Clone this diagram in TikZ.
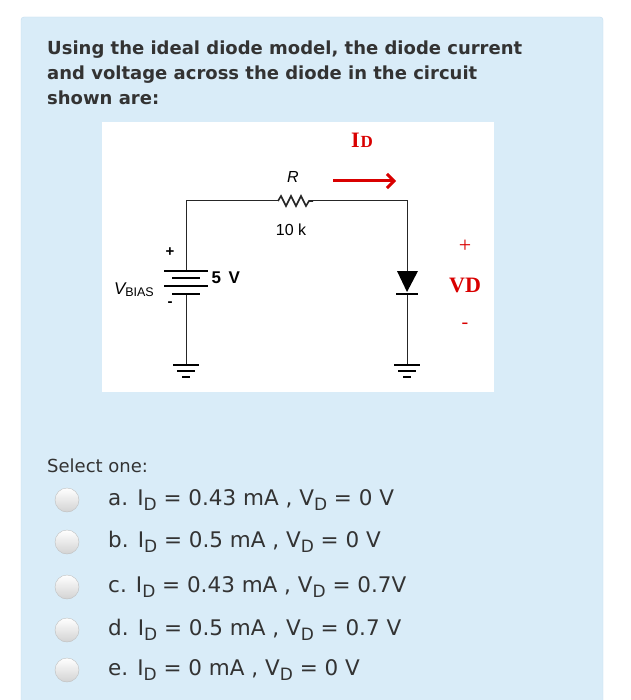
\documentclass[tikz,border=0pt]{standalone}
\usepackage{fontspec}
\usetikzlibrary{calc,arrows.meta}
\setmainfont{DejaVu Sans}
\newfontfamily\serifb{Liberation Serif}
\newfontfamily\arialf{Liberation Sans}
\definecolor{panel}{RGB}{217,236,248}
\definecolor{panelb}{RGB}{196,222,240}
\newcommand{\subD}{\raisebox{-5pt}{\fontsize{17}{17}\selectfont D}}
\begin{document}
\begin{tikzpicture}[x=1pt,y=-1pt,
  wire/.style={line width=1pt,black!85},
  radio/.style={circle,minimum size=24pt,inner sep=0pt,draw=gray!50,top color=white,bottom color=gray!35},
  opt/.style={anchor=west,font=\fontsize{21.5}{24}\selectfont,text=black!80,inner sep=0pt},
  red/.style={text=red!85!black}]
\useasboundingbox (0,0) rectangle (630,700);
\fill[white] (0,0) rectangle (630,700);
\draw[fill=panel, draw=panelb, rounded corners=3pt] (21,17) rectangle (603,712);
\node[anchor=north west,align=left,inner sep=0pt,font=\bfseries\fontsize{18}{25}\selectfont,text=black!80] (title) at (47,41)
 {Using the ideal diode model, the diode current\\and voltage across the diode in the circuit\\shown are:};
\fill[white] (102,122) rectangle (494,392);
% circuit
\coordinate (tl) at (186,201); \coordinate (tr) at (407,201);
\coordinate (r1) at (278,201); \coordinate (r2) at (313,201);
\coordinate (bt) at (186,271); \coordinate (bb) at (186,294);
\coordinate (gl) at (186,365); \coordinate (gr) at (407,365);
\coordinate (dt) at (407,271); \coordinate (db) at (407,294);
\draw[wire] (bt) -- (tl) -- (r1);
\draw[wire,line width=1.6pt] (r1) -- ++(3,-5) -- ++(5,10) -- ++(5,-10) -- ++(5,10) -- ++(5,-10) -- ++(5,10) -- ++(3,-5) -- (r2);
\draw[wire] (r2) -- (tr) -- (dt);
\draw[wire] (db) -- (gr);
\draw[wire] (bb) -- (gl);
\foreach \y/\w in {271/22,278/14,286/22,294/14}
  \draw[line width=2.2pt] (186-\w,\y) -- (186+\w,\y);
\fill (397,271) -- (418,271) -- (407,292) -- cycle;
\draw[line width=2.2pt] (396,294) -- (418,294);
\foreach \c in {gl,gr}{
  \draw[line width=2.2pt] ($(\c)+(-13,0)$) -- ++(26,0);
  \draw[line width=2.2pt] ($(\c)+(-9,6)$) -- ++(18,0);
  \draw[line width=2.2pt] ($(\c)+(-4,12)$) -- ++(8,0);}
\node[font=\arialf\itshape\fontsize{16}{16}\selectfont] (R) at (293,177) {R};
\node[font=\arialf\fontsize{16}{16}\selectfont] (rv) at (291,230) {10 k};
\node[font=\arialf\bfseries\fontsize{15}{15}\selectfont] (pl) at (170,252) {+};
\node[font=\arialf\bfseries\fontsize{15}{15}\selectfont] (mn) at (170,304) {-};
\node[font=\arialf\fontsize{17}{17}\selectfont] (vb) at (134,290) {\textit{V}\kern-1.5pt\raisebox{-2pt}{\fontsize{12.5}{12.5}\selectfont BIAS}};
\node[font=\arialf\bfseries\fontsize{17}{17}\selectfont,anchor=west] (fv) at (208,278) {5\, V};
\node[red,font=\serifb\bfseries\fontsize{22}{22}\selectfont] (ID) at (362,140) {I\kern1pt{\fontsize{17}{17}\selectfont D}};
\coordinate (a1) at (333,181); \coordinate (a2) at (396,181);
\draw[red!85!black,line width=3pt,-{Straight Barb[length=7pt,width=14pt]}] (a1) -- (a2);
\node[red,font=\serifb\fontsize{22}{22}\selectfont] (vp) at (465,246) {+};
\node[red,font=\serifb\bfseries\fontsize{22}{22}\selectfont] (VD) at (465,285) {VD};
\node[red,font=\serifb\fontsize{20}{20}\selectfont] (vm) at (465,326) {-};
\node[anchor=west,inner sep=0pt,font=\fontsize{18}{18}\selectfont,text=black!80] (sel) at (47,466) {Select one:};
\foreach \yy/\t [count=\i] in {
 500/{a. I\subD\ = 0.43 mA , V\subD\ = 0 V},
 542/{b. I\subD\ = 0.5 mA , V\subD\ = 0 V},
 587/{c. I\subD\ = 0.43 mA , V\subD\ = 0.7V},
 630/{d. I\subD\ = 0.5 mA , V\subD\ = 0.7 V},
 670/{e. I\subD\ = 0 mA , V\subD\ = 0 V}}{
  \node[radio] (rb\i) at (67,\yy) {};
  \node[opt] (o\i) at (108,\yy) {\t};}
\end{tikzpicture}
\end{document}
